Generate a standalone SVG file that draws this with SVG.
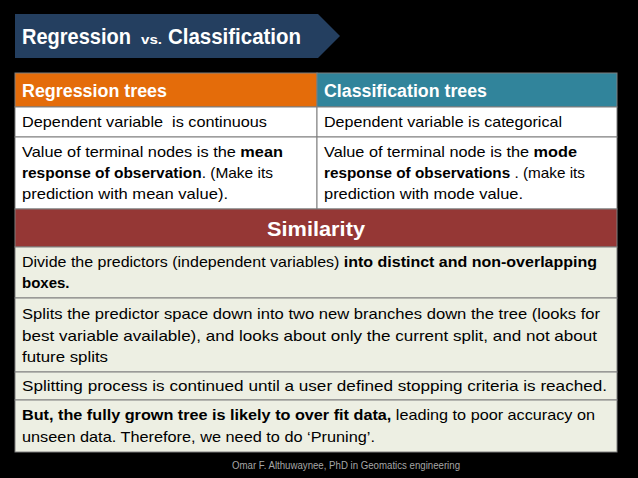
<svg xmlns="http://www.w3.org/2000/svg" width="638" height="478" viewBox="0 0 638 478">
<style>
text{font-family:"Liberation Sans",Arial,sans-serif;}
.b{font-size:15px;fill:#000;}
.h{font-size:18px;font-weight:bold;fill:#fff;}
.bd{font-weight:bold;}
.cell{fill:#fff;stroke:#7f7f7f;stroke-width:1;}
.sim{fill:#EDEFE3;stroke:#7f7f7f;stroke-width:1;}
</style>
<rect width="638" height="478" fill="#000"/>
<g id="title">
<polygon points="15,14 318,14 340,36 318,58 15,58" fill="#243F60"/>
<text x="22" y="44" font-size="22" font-weight="bold" fill="#fff" textLength="109" lengthAdjust="spacingAndGlyphs">Regression</text>
<text x="141" y="44" font-size="12" font-weight="bold" fill="#fff" textLength="21" lengthAdjust="spacingAndGlyphs">vs.</text>
<text x="168" y="44" font-size="22" font-weight="bold" fill="#fff" textLength="133" lengthAdjust="spacingAndGlyphs">Classification</text>
</g>
<g id="header-left"><rect x="15" y="73" width="302" height="34" fill="#E46C0A" stroke="#7f7f7f"/>
<text class="h" x="22" y="97" textLength="145" lengthAdjust="spacingAndGlyphs">Regression trees</text></g>
<g id="header-right"><rect x="317" y="73" width="300" height="34" fill="#31849B" stroke="#7f7f7f"/>
<text class="h" x="324" y="97" textLength="163" lengthAdjust="spacingAndGlyphs">Classification trees</text></g>
<g id="row2-left"><rect class="cell" x="15" y="107" width="302" height="30"/>
<text class="b" x="22" y="127" textLength="245" lengthAdjust="spacingAndGlyphs" xml:space="preserve">Dependent variable  is continuous</text></g>
<g id="row2-right"><rect class="cell" x="317" y="107" width="300" height="30"/>
<text class="b" x="324" y="127" textLength="238" lengthAdjust="spacingAndGlyphs">Dependent variable is categorical</text></g>
<g id="row3-left"><rect class="cell" x="15" y="137" width="302" height="72"/>
<text class="b" x="22" y="157" textLength="261" lengthAdjust="spacingAndGlyphs">Value of terminal nodes is the <tspan class="bd">mean</tspan></text>
<text class="b" x="22" y="178" textLength="251" lengthAdjust="spacingAndGlyphs"><tspan class="bd">response of observation</tspan>. (Make its</text>
<text class="b" x="22" y="199" textLength="206" lengthAdjust="spacingAndGlyphs">prediction with mean value).</text></g>
<g id="row3-right"><rect class="cell" x="317" y="137" width="300" height="72"/>
<text class="b" x="324" y="157" textLength="253" lengthAdjust="spacingAndGlyphs">Value of terminal node is the <tspan class="bd">mode</tspan></text>
<text class="b" x="324" y="178" textLength="261" lengthAdjust="spacingAndGlyphs"><tspan class="bd">response of observations</tspan> . (make its</text>
<text class="b" x="324" y="199" textLength="199" lengthAdjust="spacingAndGlyphs">prediction with mode value.</text></g>
<g id="similarity"><rect x="15" y="209" width="602" height="38" fill="#953735" stroke="#7f7f7f"/>
<text x="316" y="236" font-size="21" font-weight="bold" fill="#fff" text-anchor="middle" textLength="98" lengthAdjust="spacingAndGlyphs">Similarity</text></g>
<g id="sim1"><rect class="sim" x="15" y="247" width="602" height="51"/>
<text class="b" x="22" y="267" textLength="575" lengthAdjust="spacingAndGlyphs">Divide the predictors (independent variables) <tspan class="bd">into distinct and non-overlapping</tspan></text>
<text class="b bd" x="22" y="288">boxes.</text></g>
<g id="sim2"><rect class="sim" x="15" y="298" width="602" height="74"/>
<text class="b" x="22" y="319" textLength="578" lengthAdjust="spacingAndGlyphs">Splits the predictor space down into two new branches down the tree (looks for</text>
<text class="b" x="22" y="341" textLength="575" lengthAdjust="spacingAndGlyphs">best variable available), and looks about only the current split, and not about</text>
<text class="b" x="22" y="362" textLength="86" lengthAdjust="spacingAndGlyphs">future splits</text></g>
<g id="sim3"><rect class="sim" x="15" y="372" width="602" height="28"/>
<text class="b" x="22" y="391" textLength="585" lengthAdjust="spacingAndGlyphs">Splitting process is continued until a user defined stopping criteria is reached.</text></g>
<g id="sim4"><rect class="sim" x="15" y="400" width="602" height="52"/>
<text class="b" x="22" y="420" textLength="573" lengthAdjust="spacingAndGlyphs"><tspan class="bd">But, the fully grown tree is likely to over fit data,</tspan> leading to poor accuracy on</text>
<text class="b" x="22" y="442" textLength="353" lengthAdjust="spacingAndGlyphs">unseen data. Therefore, we need to do ‘Pruning’.</text></g>
<text x="346" y="469" font-size="10.5" fill="#a6a6a6" text-anchor="middle" textLength="228" lengthAdjust="spacingAndGlyphs">Omar F. Althuwaynee, PhD in Geomatics engineering</text>
</svg>
